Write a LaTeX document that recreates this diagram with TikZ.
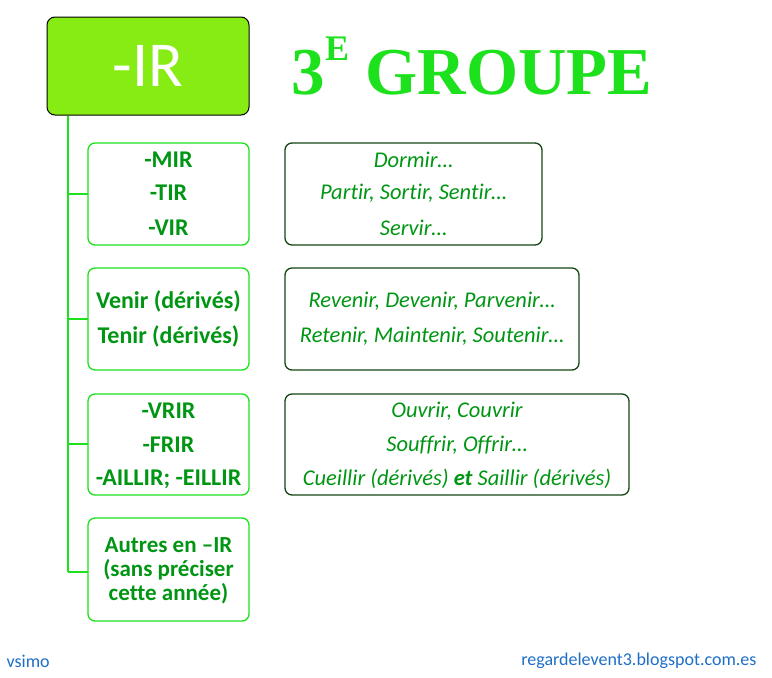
\documentclass[tikz,border=0pt]{standalone}
\usepackage{fontspec}
\setmainfont{Carlito}[Ligatures=NoCommon]
\newfontfamily\titlefont{Liberation Serif}
\definecolor{dg}{RGB}{0,150,20}
\definecolor{lime}{RGB}{135,235,20}
\definecolor{bright}{RGB}{30,225,30}
\definecolor{darkb}{RGB}{20,70,20}
\definecolor{blu}{RGB}{30,110,200}
\begin{document}
\begin{tikzpicture}[x=1pt,y=-1pt,
  lbox/.style={draw=bright,line width=1.3pt,rounded corners=7pt,fill=white},
  rbox/.style={draw=darkb,line width=1.3pt,rounded corners=7pt,fill=white},
  bt/.style={font=\fontsize{24}{26}\selectfont\bfseries,text=dg},
  it/.style={font=\fontsize{22.5}{26}\selectfont\itshape,text=dg},
  conn/.style={draw=bright,line width=2.2pt}]
\useasboundingbox (0,0) rectangle (772,678);
\node[draw=black,line width=1pt,fill=lime,rounded corners=8pt,minimum width=202pt,minimum height=98pt,text=white,font=\fontsize{64}{66}\selectfont] (top) at (148,66) {-IR};
\node[font=\titlefont\bfseries\fontsize{67}{70}\selectfont,text=bright,draw=none] (title) at (472,66) {3\raisebox{0.5em}{\fontsize{36}{36}\selectfont E} GROUPE};
\coordinate (t1) at (68,194); \coordinate (t2) at (68,319); \coordinate (t3) at (68,444); \coordinate (t4) at (68,572);
\draw[conn] (top.south -| t1) -- (t4);
\foreach \i/\y in {1/194,2/319,3/444,4/572} \draw[conn] (t\i) -- (88,\y);
\node[lbox,minimum width=161pt,minimum height=102pt] (l1) at (168.5,194) {};
\node[lbox,minimum width=161pt,minimum height=102pt] (l2) at (168.5,319) {};
\node[lbox,minimum width=161pt,minimum height=101pt] (l3) at (168.5,444.5) {};
\node[lbox,minimum width=161pt,minimum height=103pt] (l4) at (168.5,569.5) {};
\node[rbox,minimum width=257pt,minimum height=102pt] (r1) at (413.5,194) {};
\node[rbox,minimum width=294pt,minimum height=102pt] (r2) at (432,319) {};
\node[rbox,minimum width=344pt,minimum height=101pt] (r3) at (457,444.5) {};
\node[bt] (a1) at (168.5,160) {-MIR};
\node[bt] (a2) at (168.5,193) {-TIR};
\node[bt] (a3) at (168.5,228) {-VIR};
\node[bt] (b1) at (168.5,301) {Venir (dérivés)};
\node[bt] (b2) at (168.5,336) {Tenir (dérivés)};
\node[bt] (c1) at (168.5,411) {-VRIR};
\node[bt] (c2) at (168.5,445) {-FRIR};
\node[bt] (c3) at (168.5,479) {-AILLIR; -EILLIR};
\node[bt,align=center,font=\fontsize{23}{24}\selectfont\bfseries] (d1) at (168.5,571) {Autres en –IR\\(sans préciser\\cette année)};
\node[it] (e1) at (413.5,160) {Dormir…};
\node[it] (e2) at (413.5,193) {Partir, Sortir, Sentir…};
\node[it] (e3) at (413.5,228) {Servir…};
\node[it] (f1) at (432,301) {Revenir, Devenir, Parvenir…};
\node[it] (f2) at (432,336) {Retenir, Maintenir, Soutenir…};
\node[it] (g1) at (457,411) {Ouvrir, Couvrir};
\node[it] (g2) at (457,445) {Souffrir, Offrir…};
\node[it] (g3) at (457,479) {Cueillir (dérivés) \textbf{et} Saillir (dérivés)};
\node[anchor=west,text=blu,font=\fontsize{18}{20}\selectfont] (v) at (3,661) {vsimo};
\node[anchor=east,text=blu,font=\fontsize{18}{20}\selectfont] (w) at (760,661) {regardelevent3.blogspot.com.es};
\end{tikzpicture}
\end{document}
